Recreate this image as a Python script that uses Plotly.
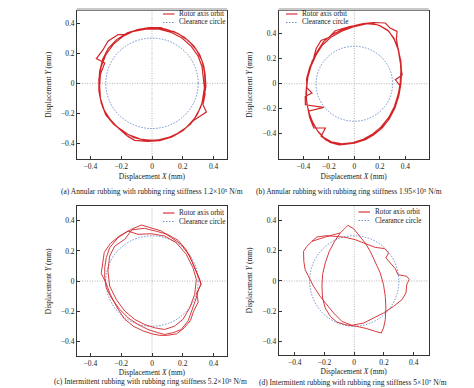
import plotly.graph_objects as go

W, H = 474, 388

# ---------------- data ----------------
CLEARANCE_R = 0.3
TICKS = [-0.4, -0.2, 0, 0.2, 0.4]
LEGEND_LABELS = ["Rotor axis orbit", "Clearance circle"]
CAPTIONS = [
    "(a) Annular rubbing with rubbing ring stiffness 1.2×10⁵ N/m",
    "(b) Annular rubbing with rubbing ring stiffness 1.95×10⁵ N/m",
    "(c) Intermittent rubbing with rubbing ring stiffness 5.2×10⁵ N/m",
    "(d) Intermittent rubbing with rubbing ring stiffness 5×10⁷ N/m",
]

# (a) annular rubbing, k = 1.2e5 : orbit (x, y) in mm, successive laps
ORBIT_A = [
    (0.345, 0.00), (0.34, 0.08), (0.325, 0.15), (0.29, 0.22), (0.24, 0.28), (0.17, 0.33),
    (0.09, 0.36), (0.0, 0.365), (-0.08, 0.36), (-0.16, 0.335), (-0.23, 0.29), (-0.285, 0.23),
    (-0.32, 0.16), (-0.34, 0.08), (-0.345, 0.0), (-0.34, -0.08), (-0.32, -0.16), (-0.28, -0.23),
    (-0.225, -0.29), (-0.155, -0.34), (-0.075, -0.37), (0.0, -0.38), (0.08, -0.37), (0.155, -0.34),
    (0.22, -0.295), (0.275, -0.235), (0.315, -0.16), (0.34, -0.08),
    (0.35, -0.02), (0.345, 0.06), (0.335, 0.12), (0.31, 0.19), (0.27, 0.25), (0.21, 0.305),
    (0.14, 0.345), (0.093, 0.35), (0.06, 0.37), (-0.02, 0.37), (-0.10, 0.355), (-0.17, 0.325),
    (-0.22, 0.323), (-0.286, 0.279), (-0.318, 0.223), (-0.361, 0.164), (-0.307, 0.135),
    (-0.335, 0.06), (-0.34, -0.02), (-0.335, -0.10), (-0.31, -0.18), (-0.265, -0.25),
    (-0.21, -0.305), (-0.156, -0.352), (-0.113, -0.378), (-0.03, -0.385), (0.05, -0.38),
    (0.13, -0.355), (0.20, -0.315), (0.26, -0.26), (0.277, -0.241), (0.353, -0.19),
    (0.331, -0.142), (0.345, -0.07), (0.335, 0.03),
    (0.325, 0.11), (0.30, 0.18), (0.255, 0.245), (0.195, 0.30), (0.12, 0.34), (0.04, 0.36),
    (-0.04, 0.36), (-0.12, 0.345), (-0.19, 0.31), (-0.25, 0.26), (-0.30, 0.19), (-0.33, 0.11),
    (-0.345, 0.03), (-0.345, -0.05), (-0.33, -0.13), (-0.30, -0.21), (-0.25, -0.27),
    (-0.19, -0.32), (-0.115, -0.36), (-0.035, -0.38), (0.045, -0.375), (0.12, -0.355),
    (0.19, -0.32), (0.25, -0.27), (0.295, -0.205), (0.325, -0.13), (0.34, -0.05), (0.345, 0.00),
]

# (b) annular rubbing, k = 1.95e5
ORBIT_B = [
    (0.126, 0.486), (0.20, 0.465), (0.27, 0.42), (0.315, 0.35), (0.345, 0.27), (0.365, 0.18),
    (0.37, 0.09), (0.365, 0.0), (0.35, -0.09), (0.32, -0.19), (0.275, -0.28), (0.217, -0.354),
    (0.15, -0.41), (0.086, -0.448), (0.0, -0.475), (-0.096, -0.488), (-0.17, -0.475),
    (-0.227, -0.448), (-0.28, -0.39), (-0.318, -0.328), (-0.35, -0.25), (-0.371, -0.168),
    (-0.38, -0.08), (-0.371, 0.019), (-0.355, 0.10), (-0.332, 0.179), (-0.29, 0.26),
    (-0.24, 0.339), (-0.17, 0.395), (-0.096, 0.432), (0.008, 0.467), (0.07, 0.482),
    (0.15, 0.49), (0.243, 0.486), (0.28, 0.445), (0.335, 0.419), (0.33, 0.36), (0.348, 0.259),
    (0.36, 0.17), (0.375, 0.07), (0.322, 0.032), (0.36, -0.02), (0.345, -0.11), (0.31, -0.21),
    (0.26, -0.30), (0.20, -0.37), (0.13, -0.42), (0.05, -0.46), (-0.04, -0.48), (-0.12, -0.49),
    (-0.19, -0.47), (-0.26, -0.42), (-0.227, -0.354), (-0.318, -0.354), (-0.35, -0.27),
    (-0.36, -0.22), (-0.24, -0.189), (-0.384, -0.168), (-0.385, -0.10), (-0.332, -0.074),
    (-0.371, -0.034), (-0.375, 0.04), (-0.35, 0.13), (-0.32, 0.20), (-0.30, 0.28),
    (-0.261, 0.347), (-0.20, 0.37), (-0.149, 0.424), (-0.10, 0.44), (-0.03, 0.46), (0.05, 0.47),
    (0.10, 0.48), (0.19, 0.47), (0.26, 0.43), (0.31, 0.365), (0.345, 0.28), (0.36, 0.19),
    (0.365, 0.10), (0.36, 0.01), (0.345, -0.08), (0.315, -0.18), (0.27, -0.27), (0.21, -0.345),
    (0.14, -0.405), (0.07, -0.445), (-0.01, -0.47), (-0.10, -0.48), (-0.18, -0.465),
    (-0.24, -0.43), (-0.29, -0.375), (-0.33, -0.30), (-0.36, -0.22), (-0.375, -0.13),
    (-0.375, -0.04), (-0.365, 0.05), (-0.34, 0.14), (-0.30, 0.23), (-0.25, 0.31),
    (-0.18, 0.375), (-0.10, 0.42), (-0.01, 0.455), (0.126, 0.486),
]

# (c) intermittent rubbing, k = 5.2e5
ORBIT_C = [
    (-0.069, 0.372), (0.0, 0.35), (0.061, 0.332), (0.126, 0.288), (0.19, 0.243), (0.245, 0.166),
    (0.277, 0.088), (0.31, 0.011), (0.316, -0.022), (0.299, -0.066), (0.288, -0.111),
    (0.266, -0.177), (0.234, -0.265), (0.19, -0.321), (0.136, -0.343), (0.082, -0.354),
    (0.039, -0.343), (-0.026, -0.321), (-0.091, -0.288), (-0.156, -0.243), (-0.21, -0.188),
    (-0.264, -0.111), (-0.297, -0.044), (-0.307, 0.022), (-0.307, 0.088), (-0.297, 0.155),
    (-0.275, 0.221), (-0.221, 0.288), (-0.156, 0.332), (-0.091, 0.31), (-0.004, 0.314),
    (0.082, 0.299), (0.158, 0.254), (0.223, 0.177), (0.266, 0.088), (0.288, 0.011),
    (0.277, -0.088), (0.245, -0.177), (0.201, -0.254), (0.147, -0.299), (0.082, -0.321),
    (0.017, -0.31), (-0.048, -0.288), (-0.113, -0.254), (-0.177, -0.199), (-0.232, -0.122),
    (-0.275, -0.033), (-0.286, 0.066), (-0.275, 0.166), (-0.242, 0.232), (-0.177, 0.277),
    (-0.13, 0.34), (-0.05, 0.35), (0.03, 0.33), (0.10, 0.31), (0.17, 0.27), (0.22, 0.21),
    (0.26, 0.13), (0.29, 0.05), (0.32, -0.02), (0.29, -0.08), (0.30, -0.14), (0.27, -0.20),
    (0.25, -0.26), (0.21, -0.31), (0.16, -0.35), (0.10, -0.36), (0.05, -0.36), (0.0, -0.35),
    (-0.06, -0.33), (-0.12, -0.30), (-0.18, -0.25), (-0.23, -0.17), (-0.27, -0.09),
    (-0.30, -0.01), (-0.33, 0.05), (-0.32, 0.12), (-0.31, 0.19), (-0.27, 0.25), (-0.21, 0.30),
    (-0.13, 0.345), (-0.069, 0.372),
]

# (d) intermittent rubbing, k = 5e7
ORBIT_D = [
    (-0.285, 0.263), (-0.251, 0.292), (-0.184, 0.301), (-0.117, 0.296), (-0.061, 0.29),
    (0.007, 0.274), (0.074, 0.246), (0.141, 0.223), (0.204, 0.215), (0.231, 0.186),
    (0.213, 0.153), (0.242, 0.119), (0.276, 0.082), (0.294, 0.042), (0.354, 0.031),
    (0.37, 0.009), (0.354, -0.02), (0.348, -0.08), (0.321, -0.124), (0.265, -0.168),
    (0.197, -0.212), (0.13, -0.246), (0.063, -0.279), (-0.016, -0.294), (-0.083, -0.268),
    (-0.139, -0.212), (-0.184, -0.157), (-0.229, -0.102), (-0.274, -0.035), (-0.307, 0.031),
    (-0.33, 0.075), (-0.339, 0.131), (-0.341, 0.197), (-0.318, 0.23), (-0.285, 0.263),
    (-0.2, 0.29), (-0.094, 0.319), (-0.065, 0.347), (-0.043, 0.369), (-0.004, 0.347),
    (0.029, 0.308), (0.074, 0.252), (0.108, 0.197), (0.141, 0.131), (0.175, 0.053),
    (0.197, -0.024), (0.209, -0.102), (0.213, -0.179), (0.209, -0.257), (0.197, -0.312),
    (0.182, -0.345), (0.141, -0.334), (0.085, -0.316), (0.018, -0.301), (-0.061, -0.29),
    (-0.117, -0.272), (-0.161, -0.235), (-0.195, -0.179), (-0.213, -0.113), (-0.217, -0.035),
    (-0.213, 0.042), (-0.195, 0.119), (-0.168, 0.197), (-0.132, 0.263), (-0.094, 0.319),
]

# ---------------- styling / layout ----------------
RED = "#d42428"
BLUE = "#6f8fcc"
AXC = "#333333"
FONT = "Liberation Serif"
FS = 7.5
LFS = 7.2
DOTS = "1.5px,1.5px"

# pixel boxes of each panel: left, right, top, bottom ; axis ranges
PANELS = [
    dict(orbit=ORBIT_A, box=(69, 219, 2.5, 151), xr=[-0.487, 0.487], yr=[-0.502, 0.483],
         leg=(155, 6), cap=(143.5, 183), lw=1.2, xso=3),
    dict(orbit=ORBIT_B, box=(270.7, 420.7, 2.5, 151), xr=[-0.593, 0.583], yr=[-0.602, 0.586],
         leg=(278, 6), cap=(340.5, 183), lw=1.2, xso=3),
    dict(orbit=ORBIT_C, box=(69, 219, 198.3, 348.3), xr=[-0.487, 0.487], yr=[-0.499, 0.496],
         leg=(155, 205), cap=(142, 373.5), lw=0.9, xso=1),
    dict(orbit=ORBIT_D, box=(270.7, 420.7, 198, 346.7), xr=[-0.508, 0.501], yr=[-0.489, 0.4975],
         leg=(350.5, 204), cap=(344.5, 374), lw=0.9, xso=1),
]
LEG_ROW = 8.5

def px(x):
    return x / W

def py(y):
    return 1 - y / H

fig = go.Figure()
shapes = []
annotations = []

for i, p in enumerate(PANELS):
    n = "" if i == 0 else str(i + 1)
    xa, ya = "x" + n, "y" + n
    xs = [pt[0] for pt in p["orbit"]]
    ys = [pt[1] for pt in p["orbit"]]
    fig.add_trace(go.Scatter(
        x=xs, y=ys, mode="lines", xaxis=xa, yaxis=ya,
        line=dict(color=RED, width=p["lw"]), name=LEGEND_LABELS[0], showlegend=False,
    ))
    l, r, t, b = p["box"]
    axis_common = dict(
        showgrid=False, zeroline=False, showline=True, mirror=True, linecolor=AXC, linewidth=1,
        ticks="inside", ticklen=3, tickcolor=AXC, tickvals=TICKS,
        tickfont=dict(family=FONT, size=FS, color="#222"),
    )
    fig.layout["xaxis" + n] = dict(
        axis_common, domain=[px(l), px(r)], range=p["xr"], anchor=ya,
        title=dict(text="Displacement <i>X</i> (mm)", font=dict(family=FONT, size=FS, color="#222"),
                   standoff=p["xso"]),
    )
    fig.layout["yaxis" + n] = dict(
        axis_common, domain=[py(b), py(t)], range=p["yr"], anchor=xa,
        title=dict(text="Displacement <i>Y</i> (mm)", font=dict(family=FONT, size=FS, color="#222"),
                   standoff=8),
    )
    # crosshair through origin
    shapes.append(dict(type="line", xref=xa, yref=ya + " domain", x0=0, x1=0, y0=0, y1=1,
                       line=dict(color="#a0a0a0", width=0.8, dash="1px,1.5px"), layer="below"))
    shapes.append(dict(type="line", xref=xa + " domain", yref=ya, x0=0, x1=1, y0=0, y1=0,
                       line=dict(color="#a0a0a0", width=0.8, dash="1px,1.5px"), layer="below"))
    # clearance circle
    shapes.append(dict(type="circle", xref=xa, yref=ya, x0=-CLEARANCE_R, x1=CLEARANCE_R,
                       y0=-CLEARANCE_R, y1=CLEARANCE_R,
                       line=dict(color=BLUE, width=1, dash=DOTS), layer="below"))
    # legend (short line samples + labels)
    lx, ly = p["leg"]
    shapes.append(dict(type="line", xref="paper", yref="paper", x0=px(lx), x1=px(lx + 11.5),
                       y0=py(ly), y1=py(ly), line=dict(color=RED, width=1.1)))
    shapes.append(dict(type="line", xref="paper", yref="paper", x0=px(lx), x1=px(lx + 11.5),
                       y0=py(ly + LEG_ROW), y1=py(ly + LEG_ROW),
                       line=dict(color=BLUE, width=1, dash=DOTS)))
    for k, lab in enumerate(LEGEND_LABELS):
        annotations.append(dict(text=lab, xref="paper", yref="paper", x=px(lx + 14),
                                y=py(ly + LEG_ROW * k), xanchor="left", yanchor="middle",
                                showarrow=False, font=dict(family=FONT, size=LFS, color="#222")))
    # caption
    cx, cy = p["cap"]
    annotations.append(dict(text=CAPTIONS[i], xref="paper", yref="paper", x=px(cx), y=py(cy),
                            xanchor="center", yanchor="middle", showarrow=False,
                            font=dict(family=FONT, size=FS, color="#222")))

# thin grey strip at the very top (cropped edge of the source figure)
for l, r in [(69, 219), (270.7, 420.7)]:
    shapes.append(dict(type="rect", xref="paper", yref="paper", x0=px(l), x1=px(r),
                       y0=py(2.5), y1=1, fillcolor="#c9c9c9", line=dict(width=0)))

fig.update_layout(
    width=W, height=H, margin=dict(l=0, r=0, t=0, b=0),
    paper_bgcolor="white", plot_bgcolor="white",
    shapes=shapes, annotations=annotations, showlegend=False,
    font=dict(family=FONT, size=FS, color="#222"),
)

fig.write_html("out.html")
